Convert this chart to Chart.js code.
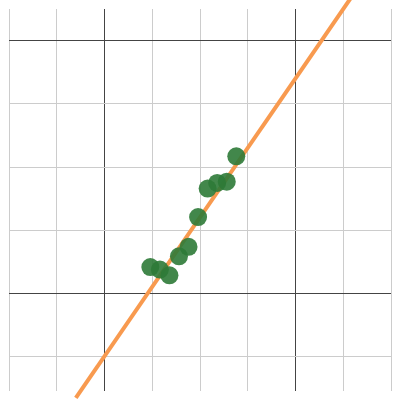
<!DOCTYPE html>
<html><head><meta charset="utf-8">
<script src="https://cdn.jsdelivr.net/npm/chart.js@4"></script>
<style>html,body{margin:0;padding:0;background:#fff}#w{width:400px;height:400px}</style>
</head><body><div id="w"><canvas id="c"></canvas></div>
<script>
const xs = [0.96,1.16,1.36,1.56,1.76,1.96,2.16,2.36,2.56,2.76];
const ys = [0.42,0.38,0.29,0.59,0.74,1.21,1.66,1.75,1.77,2.17];
const fitX = [-0.6,5.2];
const slope = 1.098, intercept = -0.99;
const pts = xs.map((x,i)=>({x, y: ys[i]}));
const line = fitX.map(x=>({x, y: slope*x+intercept}));
const gridColor = c => (Math.abs(c.tick.value)%4===0) ? '#444' : '#ccc';
new Chart(document.getElementById('c'), {
  data: { datasets: [
    { type:'line', data: line, borderColor:'#f89a4f', borderWidth:4, pointRadius:0, order:2, clip:false },
    { type:'scatter', data: pts, backgroundColor:'rgba(45,122,55,0.9)', borderWidth:0, pointRadius:9, order:1 }
  ]},
  options: {
    animation:false, responsive:true, maintainAspectRatio:false,
    layout:{padding:0},
    plugins:{legend:{display:false}, tooltip:{enabled:false}},
    scales:{
      x:{type:'linear', min:-2, max:6, ticks:{display:false, stepSize:1, padding:0}, border:{display:false},
         grid:{color:gridColor, lineWidth:1, drawTicks:false, tickLength:0},
         afterFit: s=>{s.height=0; s.paddingLeft=0; s.paddingRight=0;}},
      y:{type:'linear', min:-1.54, max:4.5, afterBuildTicks: a=>{a.ticks=[-1,0,1,2,3,4].map(v=>({value:v}));},
         ticks:{display:false, padding:0}, border:{display:false},
         grid:{color:gridColor, lineWidth:1, drawTicks:false, tickLength:0},
         afterFit: s=>{s.width=0; s.paddingTop=0; s.paddingBottom=0;}}
    }
  }
});
</script></body></html>
